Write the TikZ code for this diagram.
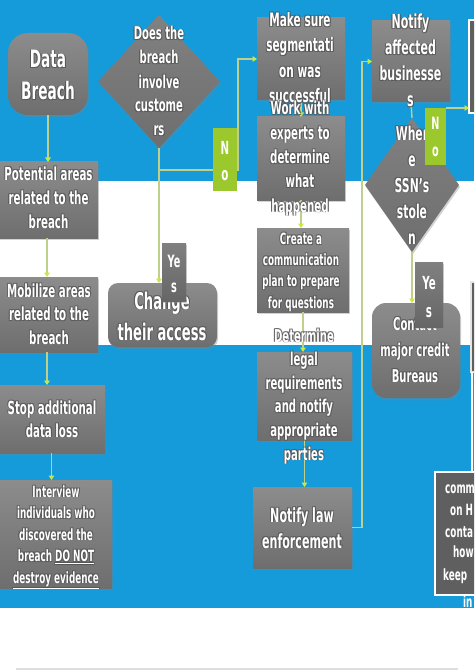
\documentclass[tikz,border=0pt]{standalone}
\usepackage{fontspec}
\newfontfamily\bx{DejaVu Sans}[FakeStretch=0.57]
\usetikzlibrary{arrows.meta,shadows,shapes.geometric}
\definecolor{bgblue}{RGB}{22,155,218}
\definecolor{boxtop}{RGB}{140,140,140}
\definecolor{boxbot}{RGB}{110,110,110}
\definecolor{yestop}{RGB}{128,128,128}
\definecolor{yesbot}{RGB}{102,102,102}
\definecolor{nogreen}{RGB}{155,200,45}
\definecolor{linec}{RGB}{190,208,140}
\definecolor{tipc}{RGB}{205,232,60}
\definecolor{rulec}{RGB}{222,222,222}
\definecolor{shadowc}{RGB}{85,85,85}
\newcommand\fsz[2]{\fontsize{#1}{#2}\selectfont}
% white text with a dark outline: name, coordinate, font, text
\newcommand\ltxt[4]{%
  \foreach \dx/\dy [count=\k] in {0.9/0.9,-0.9/0.9,0.9/-0.9,-0.9/-0.9}{%
    \node[txt, text=shadowc, text opacity=0.75, font=#3] (#1s\k) at ([shift={(\dx,\dy)}]#2) {#4};}%
  \node[txt, font=#3] (#1) at (#2) {#4};}
\begin{document}
\begin{tikzpicture}[x=1pt,y=-1pt,
  boxs/.style={draw=none, top color=boxtop, bottom color=boxbot,
    drop shadow={shadow xshift=1pt,shadow yshift=-2pt,opacity=0.35},
    inner sep=0pt, outer sep=0pt, rectangle},
  diam/.style={boxs, diamond, top color=boxtop!92!black, bottom color=boxbot},
  lab/.style={draw=none, top color=yestop, bottom color=yesbot,
    drop shadow={shadow xshift=1pt,shadow yshift=-2pt,opacity=0.35},
    inner sep=0pt, outer sep=0pt, rectangle},
  nolab/.style={draw=none, fill=nogreen, inner sep=0pt, outer sep=0pt, rectangle},
  edgebox/.style={draw=white, line width=1.5pt, fill=boxbot!110!white, inner sep=0pt, outer sep=0pt, rectangle},
  txt/.style={anchor=base, align=center, inner sep=0pt, outer sep=0pt, text=white},
  conn/.style={draw=linec, line width=1.4pt, -{Triangle[length=4.5pt,width=5.5pt,color=tipc]}},
  plain/.style={draw=linec, line width=1.4pt},
]
\clip (0,0) rectangle (474,671);
% background bands
\fill[white] (0,0) rectangle (474,671);
\fill[bgblue] (0,0) rectangle (474,181);
\fill[bgblue] (0,345) rectangle (474,608);
\draw[rulec, line width=2pt] (16,669) -- (458,669);

% boxes
\node[boxs, rounded corners=20pt, minimum width=80pt, minimum height=82pt] (A) at (48,74) {};
\node[diam, minimum width=122pt, minimum height=133pt] (B) at (159,81.5) {};
\node[boxs, minimum width=102pt, minimum height=76pt] (C) at (47,200) {};
\node[boxs, minimum width=102pt, minimum height=75pt] (D) at (47,314.5) {};
\node[boxs, minimum width=109pt, minimum height=68pt] (E) at (50.5,419) {};
\node[boxs, minimum width=116pt, minimum height=108pt] (F) at (54,534) {};
\node[boxs, rounded corners=10pt, minimum width=109pt, minimum height=64pt] (G) at (162.5,315) {};
\node[boxs, minimum width=88pt, minimum height=82pt] (H) at (301,59) {};
\node[boxs, minimum width=88pt, minimum height=83pt] (I) at (301,158.5) {};
\node[boxs, minimum width=92pt, minimum height=84pt] (J) at (303,270) {};
\node[boxs, minimum width=95pt, minimum height=88pt] (K) at (304.5,396) {};
\node[boxs, minimum width=99pt, minimum height=81pt] (L) at (302.5,527.5) {};
\node[boxs, minimum width=78pt, minimum height=81pt] (M) at (411,61.5) {};
\node[diam, minimum width=94pt, minimum height=134pt] (N) at (412,185) {};
\node[boxs, rounded corners=14pt, minimum width=88pt, minimum height=95pt] (O) at (416,350.5) {};
\node[edgebox, minimum width=16pt, minimum height=93pt] (R1) at (477,66.5) {};
\node[edgebox, draw=white!80!gray, minimum width=14pt, minimum height=90pt] (R2) at (478,327) {};
\node[edgebox, minimum width=55pt, minimum height=123pt] (R3) at (462.5,533.5) {};

% connectors
\draw[conn] (A.south) -- (A.south |- C.north);
\draw[conn] (C.south) -- (C.south |- D.north);
\draw[conn] (D.south) -- (D.south |- E.north);
\draw[conn] ([xshift=1pt]E.south) -- ([xshift=1pt]E.south |- F.north);
\draw[conn] (B.south) -- (B.south |- G.north);
\coordinate (bj) at (159,170);
\coordinate (nobend) at (238,170);
\draw[conn] (bj) -- (nobend) |- (H.west);
\draw[conn] (H.south) -- (H.south |- I.north);
\draw[conn] (I.south) -- (I.south |- J.north);
\draw[conn] (J.south) -- (J.south |- K.north);
\draw[conn] (K.south) -- (K.south |- L.north);
\coordinate (lm) at (362,527.5);
\draw[conn] (L.east) -- (lm) |- (M.west);
\draw[plain] (M.south) -- (N.north);
\draw[conn] (N.south) -- (N.south |- O.north);
\draw[white, line width=1.5pt] ([xshift=1pt]R2.south west) -- ([xshift=1pt]R2.south west |- R3.north);

% texts (anchored at the baseline of the last line)
\ltxt{tA}{48,100}{\bx\bfseries\fsz{24}{32}}{Data\\Breach}
\ltxt{tB}{159,136}{\bx\bfseries\fsz{17.6}{24}}{Does the\\breach\\involve\\custome\\rs}
\ltxt{tC}{48.5,228}{\bx\bfseries\fsz{18}{24}}{Potential areas\\related to the\\breach}
\ltxt{tD}{49,344}{\bx\bfseries\fsz{18}{23.5}}{Mobilize areas\\related to the\\breach}
\ltxt{tE}{52,437}{\bx\bfseries\fsz{18}{23}}{Stop additional\\data loss}
\ltxt{tF}{56,583}{\bx\bfseries\fsz{15.5}{21.5}}{Interview\\individuals who\\discovered the\\breach \underline{DO NOT}\\\underline{destroy evidence}}
\ltxt{tG}{162,340}{\bx\bfseries\fsz{23}{31}}{Change\\their access}
\ltxt{tH}{300,103}{\bx\bfseries\fsz{18.5}{25.5}}{Make sure\\segmentati\\on was\\successful}
\ltxt{tI}{300,212}{\bx\bfseries\fsz{18}{24.3}}{Work with\\experts to\\determine\\what\\happened}
\ltxt{tJ}{301,308}{\bx\bfseries\fsz{15.5}{21.3}}{Create a\\communication\\plan to prepare\\for questions}
\ltxt{tK}{304,460}{\bx\bfseries\fsz{17.7}{23.6}}{Determine\\legal\\requirements\\and notify\\appropriate\\parties}
\ltxt{tL}{302,548}{\bx\bfseries\fsz{19.5}{26}}{Notify law\\enforcement}
\ltxt{tM}{410.5,107}{\bx\bfseries\fsz{19.3}{26}}{Notify\\affected\\businesse\\s}
\ltxt{tN}{412,244}{\bx\bfseries\fsz{19}{26}}{Wher\\e\\SSN’s\\stole\\n}
\ltxt{tO}{415,382}{\bx\bfseries\fsz{17.6}{26}}{Contact\\major credit\\Bureaus}
\begin{scope}[every node/.style={anchor=base west, inner sep=0pt, text=white, font=\bx\bfseries\fsz{15.5}{20}}]
\node (r1) at (445,493) {comm};
\node (r2) at (450,515) {on H};
\node (r3) at (445,537) {conta};
\node (r4) at (453,557) {how};
\node (r5) at (443,580) {keep};
\node (r6) at (463,607) {in};
\end{scope}

% yes / no labels
\node[nolab, minimum width=24pt, minimum height=63pt] (no1) at (225,159.5) {};
\node[txt, font=\bx\bfseries\fsz{18}{25}] (tno1) at (225,180) {N\\o};
\node[lab, minimum width=24pt, minimum height=58pt] (yes1) at (174,272) {};
\node[txt, font=\bx\bfseries\fsz{17}{25}] (tyes1) at (174,292) {Ye\\s};
\node[nolab, minimum width=21pt, minimum height=57pt] (no2) at (435.5,136.5) {};
\node[txt, font=\bx\bfseries\fsz{17}{27}] (tno2) at (435.5,157) {N\\o};
\draw[conn] (no2.north east) -- (no2.north east -| R1.west);
\node[lab, minimum width=28pt, minimum height=65pt] (yes2) at (429,294.5) {};
\node[txt, font=\bx\bfseries\fsz{18}{28}] (tyes2) at (429,317) {Ye\\s};
\end{tikzpicture}
\end{document}
